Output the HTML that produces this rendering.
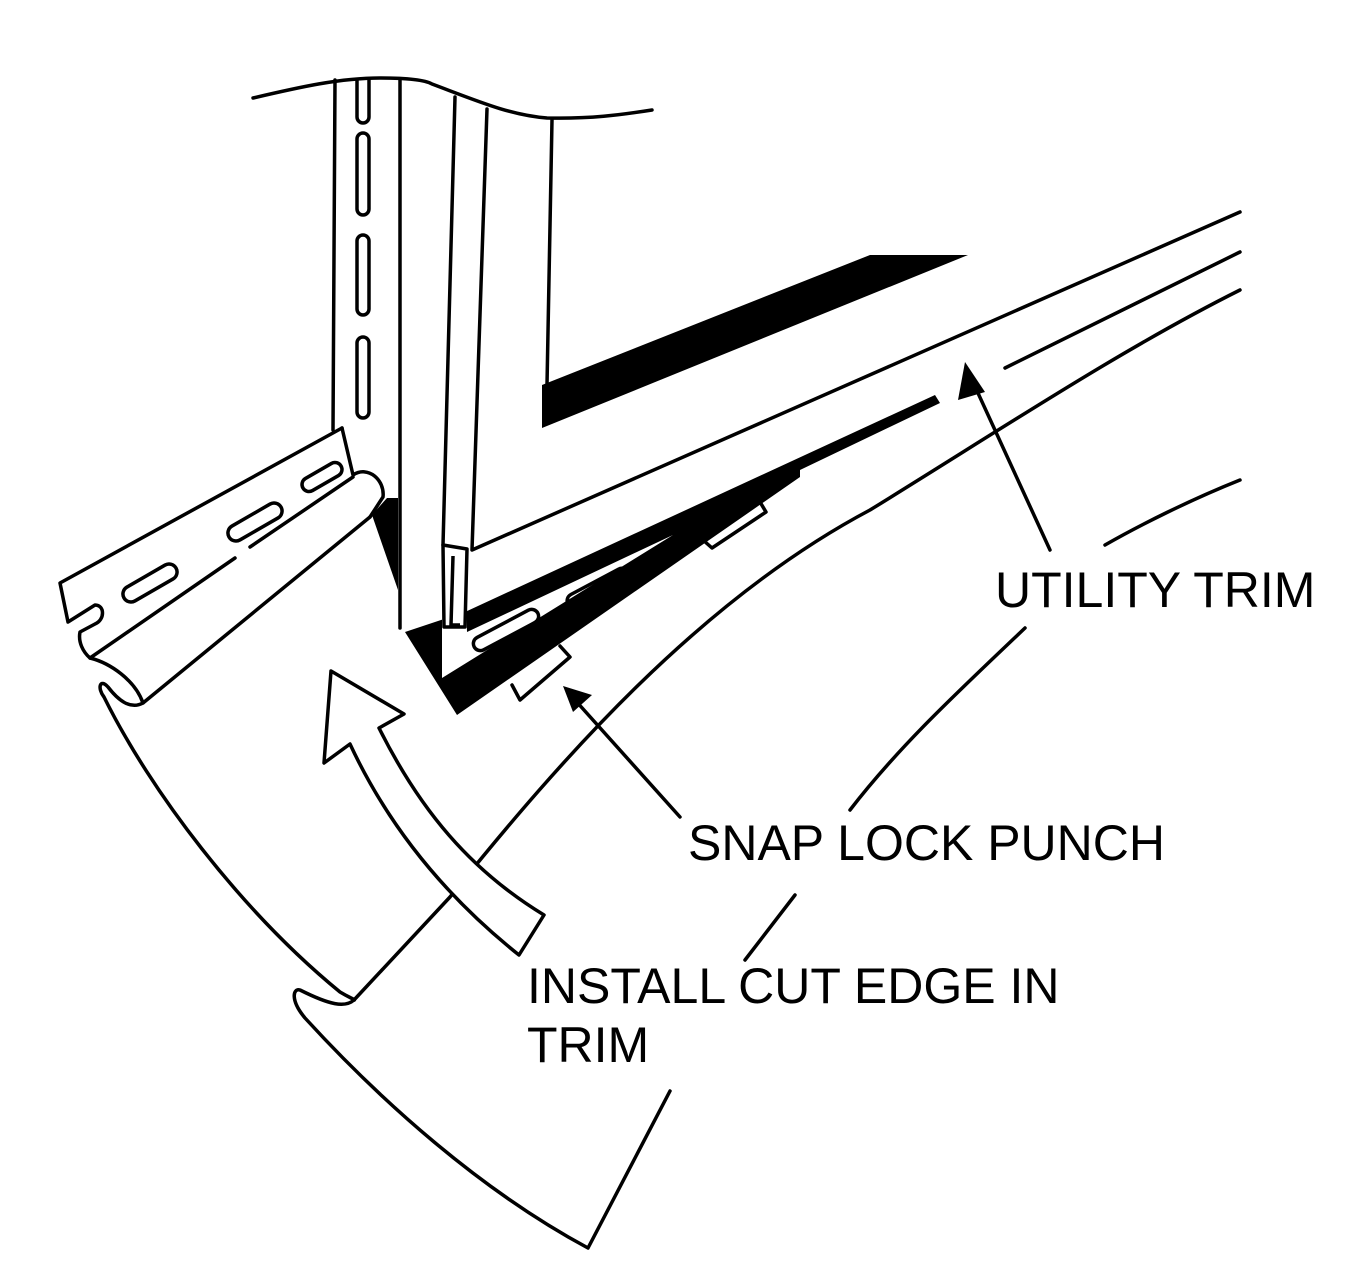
<!DOCTYPE html>
<html><head><meta charset="utf-8"><style>
html,body{margin:0;padding:0;background:#fff;}
svg{display:block;}
text{font-family:"Liberation Sans",Arial,sans-serif;font-size:50px;fill:#000;}
</style></head><body>
<svg width="1365" height="1263" viewBox="0 0 1365 1263" xmlns="http://www.w3.org/2000/svg">
<g fill="none" stroke="#000" stroke-width="3.5" stroke-linejoin="round" stroke-linecap="round">
<path d="M253,98 C300,87 340,78 380,78 C410,78 425,80 432,84 C480,102 510,115 547,118 C590,119 620,115 652,110"/>
<path d="M335,80 L333,430"/>
<path d="M400,80 L400,628"/>
<path d="M455,97 L443,545"/>
<path d="M487,109 L472,550 L1240,212"/>
<path d="M552,120 L547,385"/>
<path d="M357,80 L357,117 A6,6 0 0 0 369,117 L369,80"/>
<rect x="357" y="133" width="12" height="82" rx="6"/>
<rect x="357" y="235" width="12" height="80" rx="6"/>
<rect x="357" y="337" width="12" height="81" rx="6"/>
<path d="M1240,252 L1005,368"/>
<path d="M354,1000 L450,897 C560,760 700,600 870,510 C1000,430 1120,350 1240,290"/>
<path d="M342,428 L60,583 L68,622 L95,605 C105,605 105,620 95,624 L80,632 C78,642 83,652 90,658 C110,663 135,680 143,703 L370,517"/>
<path d="M342,428 L353,475 C368,465 385,480 383,497 L370,517"/>
<path d="M90,658 L235,558 M250,547 L353,477"/>
<rect x="-30" y="-8" width="60" height="16" rx="8" transform="translate(150,583) rotate(-30)"/>
<rect x="-30" y="-8" width="60" height="16" rx="8" transform="translate(255,522) rotate(-30)"/>
<rect x="-22" y="-7" width="44" height="14" rx="7" transform="translate(322,477) rotate(-30)"/>
<path d="M143,703 C130,710 118,700 108,687 C100,678 97,688 104,697 C150,790 240,910 340,992 C350,998 356,1000 354,1000"/>
<path d="M354,1000 C345,1008 330,1005 300,990 C293,988 290,1000 305,1018 C380,1100 480,1190 588,1248 L670,1091"/>
<path d="M1240,480 C1190,500 1140,525 1105,545"/>
<path d="M1025,628 C960,690 900,745 850,810"/>
<path d="M795,895 L745,960"/>
<path d="M560,646 L570,657 L520,700 L512,685"/>
<path d="M760,502 L766,512 L712,548 L703,540"/>
<path d="M331,671 L404,714 L379,728 C420,810 470,870 544,915 L519,955 C450,900 390,830 350,744 L324,763 Z" fill="#fff"/>
<path d="M1050,550 L972,380"/>
<path d="M680,817 L575,700"/>
</g>
<g fill="#000" stroke="none">
<polygon points="542,385 870,255 968,255 542,428"/>
<polygon points="372,515 387,498 398,498 398,590"/>
<polygon points="405,632 465,612 935,395 940,403 800,470 800,477 457,715"/>
<polygon points="442,560 465,560 467,632 673,535 442,678" fill="#fff"/>
<polygon points="965,362 958,400 985,392"/>
<polygon points="563,686 573,712 592,695"/>
</g>
<g fill="none" stroke="#000" stroke-width="3.5" stroke-linejoin="round">
<path d="M443,545 L467,549 L465,627 L444,627 Z" fill="#fff"/>
<path d="M453,556 L451,625 L460,625"/>
<rect x="-36" y="-7" width="72" height="14" rx="7" transform="translate(506,630) rotate(-28)"/>
<rect x="-34" y="-7" width="68" height="14" rx="7" transform="translate(598,588) rotate(-28)"/>
</g>
<text x="995" y="607">UTILITY TRIM</text>
<text x="688" y="860">SNAP LOCK PUNCH</text>
<text x="527" y="1003">INSTALL CUT EDGE IN</text>
<text x="527" y="1062">TRIM</text>
</svg>
</body></html>
